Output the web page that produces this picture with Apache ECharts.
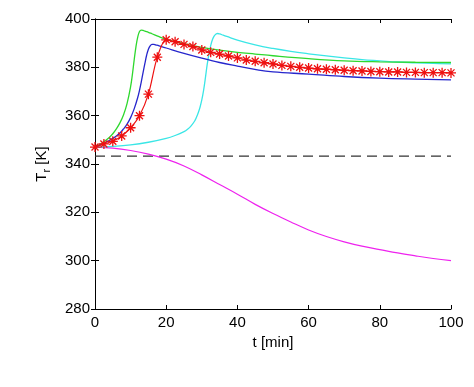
<!DOCTYPE html>
<html>
<head>
<meta charset="utf-8">
<script src="https://cdn.jsdelivr.net/npm/echarts@6/dist/echarts.min.js"></script>
<style>html,body{margin:0;padding:0;background:#fff}#c{width:474px;height:387px}</style>
</head>
<body>
<div id="c"></div>
<script>
// ---- data ----
const xTicks = [0, 20, 40, 60, 80, 100];
const yTicks = [280, 300, 320, 340, 360, 380, 400];

const tGreen = [0, 1, 2, 3, 4, 5, 6, 7, 8, 9, 10, 10.5, 11, 11.5, 12, 12.5, 13, 13.5, 14, 15, 16, 18, 20, 25, 30, 35, 40, 45, 50, 60, 70, 80, 90, 100];
const TGreen = [347, 347.8, 348.7, 349.8, 351, 352.5, 354.5, 357, 360.3, 365, 372, 377, 383, 388.5, 392.5, 394.8, 395.4, 395.3, 395, 394.5, 393.9, 392.7, 391.6, 389.8, 388.3, 387.1, 386.2, 385.5, 384.8, 383.6, 382.7, 382.3, 382.1, 382.0];

const tBlue = [0, 1, 2, 3, 4, 5, 6, 7, 8, 9, 10, 11, 12, 12.5, 13, 13.5, 14, 14.5, 15, 15.5, 16, 16.5, 17, 18, 20, 25, 30, 35, 40, 46, 50, 60, 70, 80, 90, 100];
const TBlue = [347, 347.6, 348.2, 348.9, 349.7, 350.6, 351.6, 352.8, 354.5, 356.5, 359.2, 362.8, 367.5, 370.5, 374, 377.8, 381.5, 385, 387.5, 388.9, 389.5, 389.5, 389.3, 388.9, 388, 385.8, 383.8, 382, 380.5, 378.8, 378.1, 377.2, 376.2, 375.5, 375.1, 374.8];

const tCyan = [0, 5, 10, 15, 20, 22.5, 25, 26, 27, 28, 28.5, 29, 29.5, 30, 30.5, 31, 31.5, 32, 32.5, 33, 33.5, 34, 34.5, 35, 36, 37, 40, 45, 50, 55, 60, 65, 70, 75, 80, 85, 90, 95, 100];
const TCyan = [347, 347.3, 347.9, 349, 350.6, 351.8, 353.4, 354.4, 355.8, 357.8, 359.3, 361.2, 363.5, 366.5, 370.5, 375.5, 381, 385.5, 389, 391.5, 393, 393.8, 394, 393.8, 393.3, 392.8, 391.3, 389.3, 387.8, 386.6, 385.6, 384.7, 383.9, 383.2, 382.7, 382.2, 381.9, 381.6, 381.4];

const tMagenta = [0, 5, 10, 15, 20, 25, 30, 35, 40, 45, 50, 55, 60, 65, 70, 75, 80, 85, 90, 95, 100];
const TMagenta = [347, 346.6, 345.6, 344.1, 342, 339.2, 335.5, 331.5, 327.5, 323.3, 319.5, 316, 312.7, 310, 307.8, 306, 304.6, 303.2, 302, 300.9, 300];

const tRed = [0, 2.5, 5, 7.5, 10, 12.5, 15, 17.5, 20, 22.5, 25, 27.5, 30, 32.5, 35, 37.5, 40, 42.5, 45, 47.5, 50, 52.5, 55, 57.5, 60, 62.5, 65, 67.5, 70, 72.5, 75, 77.5, 80, 82.5, 85, 87.5, 90, 92.5, 95, 97.5, 100];
const TRed = [347.0, 348.3, 349.4, 351.6, 355.0, 360.0, 368.9, 384.2, 391.4, 390.6, 389.5, 388.6, 387.2, 386.2, 385.5, 384.7, 383.9, 383.0, 382.5, 381.9, 381.4, 380.8, 380.4, 380.0, 379.7, 379.4, 379.2, 379.0, 378.8, 378.6, 378.5, 378.3, 378.2, 378.1, 378.1, 377.9, 377.9, 377.8, 377.8, 377.8, 377.7];

const tDash = [0, 100];
const TDash = [343.3, 343.3];

const zip = (a, b) => a.map((v, i) => [v, b[i]]);

const font = '"Liberation Sans", Arial, Helvetica, sans-serif';
const asterisk = 'path://M0,-10L0,10M-10,0L10,0M-7,-7L7,7M-7,7L7,-7';

const baseAxis = {
  axisLine: { show: true, lineStyle: { color: '#000', width: 1 } },
  axisTick: { show: true, inside: true, length: 4, lineStyle: { color: '#000' } },
  splitLine: { show: false }
};

const chart = echarts.init(document.getElementById('c'), null, { renderer: 'canvas' });
chart.setOption({
  animation: false,
  backgroundColor: '#fff',
  grid: { left: 95, right: 23, top: 19, bottom: 78, containLabel: false },
  xAxis: [
    Object.assign({}, baseAxis, {
      type: 'value', min: xTicks[0], max: xTicks[xTicks.length - 1], interval: 20,
      position: 'bottom',
      name: 't [min]', nameLocation: 'middle', nameGap: 23,
      nameTextStyle: { fontFamily: font, fontSize: 15, color: '#000' },
      axisLabel: { margin: 6, fontFamily: font, fontSize: 15, color: '#000' }
    }),
    Object.assign({}, baseAxis, {
      type: 'value', min: xTicks[0], max: xTicks[xTicks.length - 1], interval: 20,
      position: 'top', axisLabel: { show: false }
    })
  ],
  yAxis: [
    Object.assign({}, baseAxis, {
      type: 'value', min: yTicks[0], max: yTicks[yTicks.length - 1], interval: 20,
      position: 'left',
      name: '{a|T}{b|r}{a| [K]}', nameLocation: 'middle', nameGap: 43,
      nameTextStyle: {
        fontFamily: font, fontSize: 15, color: '#000',
        rich: {
          a: { fontFamily: font, fontSize: 15, color: '#000' },
          b: { fontFamily: font, fontSize: 11, color: '#000', padding: [9, 0, 0, 0] }
        }
      },
      axisLabel: { margin: 5, fontFamily: font, fontSize: 15, color: '#000' }
    }),
    Object.assign({}, baseAxis, {
      type: 'value', min: yTicks[0], max: yTicks[yTicks.length - 1], interval: 20,
      position: 'right', axisLabel: { show: false }
    })
  ],
  series: [
    { type: 'line', data: zip(tDash, TDash), showSymbol: false, lineStyle: { color: '#333', width: 1.2, type: [10, 6] }, z: 1 },
    { type: 'line', data: zip(tMagenta, TMagenta), smooth: 0.4, showSymbol: false, lineStyle: { color: '#ee22ee', width: 1.2 } },
    { type: 'line', data: zip(tCyan, TCyan), smooth: 0.4, showSymbol: false, lineStyle: { color: '#3ae6e6', width: 1.3 } },
    { type: 'line', data: zip(tGreen, TGreen), smooth: 0.4, showSymbol: false, lineStyle: { color: '#2ed82e', width: 1.3 } },
    { type: 'line', data: zip(tBlue, TBlue), smooth: 0.4, showSymbol: false, lineStyle: { color: '#2626cc', width: 1.3 } },
    { type: 'line', data: zip(tRed, TRed), smooth: 0.3, showSymbol: true, symbol: asterisk, symbolSize: 10,
      lineStyle: { color: '#ee1111', width: 1.2 },
      itemStyle: { color: 'none', borderColor: '#ee1111', borderWidth: 1.3 }, z: 5 }
  ]
});
</script>
</body>
</html>
